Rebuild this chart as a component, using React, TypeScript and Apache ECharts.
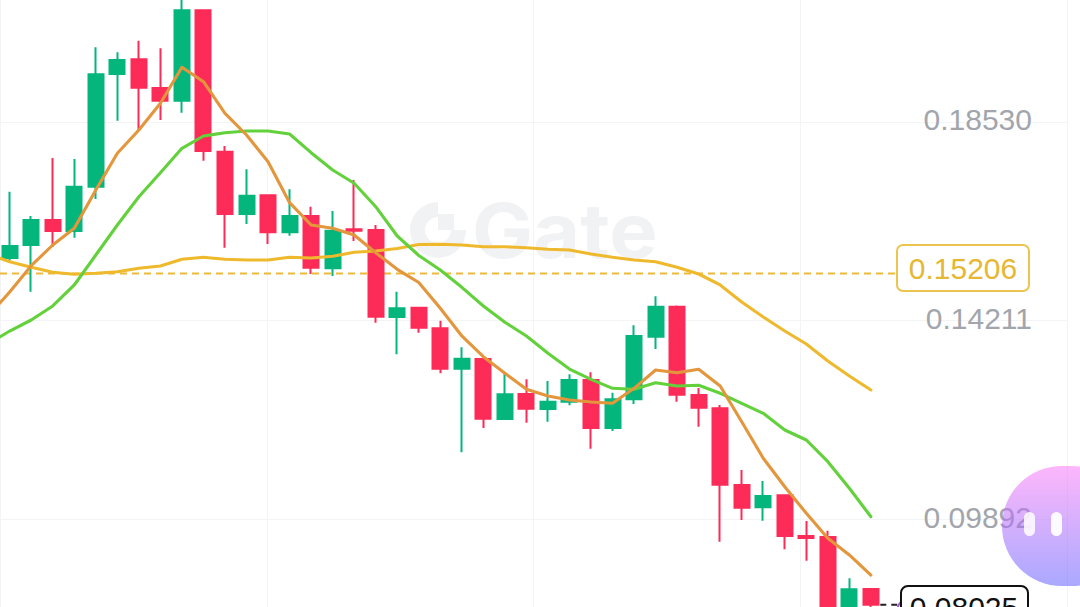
import React, { useEffect, useRef } from "react";
import * as echarts from "echarts";

const priceTicks = [0.0989, 0.14211, 0.1853];
const opens = [0.1557, 0.15853, 0.16397, 0.16158, 0.17122, 0.19575, 0.19894, 0.1927, 0.18993, 0.20961, 0.17884, 0.16528, 0.16935, 0.16129, 0.16484, 0.15346, 0.16195, 0.1618, 0.14286, 0.14488, 0.1404, 0.13161, 0.13372, 0.12066, 0.1261, 0.12284, 0.12443, 0.12915, 0.1187, 0.12495, 0.13857, 0.1451, 0.12589, 0.12299, 0.1063, 0.10145, 0.10406, 0.0952, 0.09498, 0.07583, 0.08367];
const closes = [0.15831, 0.16397, 0.16158, 0.17122, 0.19568, 0.19879, 0.19276, 0.18993, 0.20961, 0.17899, 0.16528, 0.16926, 0.16129, 0.16484, 0.15359, 0.16164, 0.16164, 0.14293, 0.14476, 0.14053, 0.13161, 0.13379, 0.12073, 0.12604, 0.12291, 0.12443, 0.12915, 0.1187, 0.12495, 0.13873, 0.1451, 0.12595, 0.12312, 0.10636, 0.10136, 0.10391, 0.0952, 0.09477, 0.07474, 0.0836, 0.08025];
const lows = [0.1549, 0.14837, 0.1581, 0.16012, 0.16854, 0.18558, 0.18341, 0.18573, 0.18732, 0.17688, 0.15794, 0.1631, 0.15875, 0.16055, 0.15222, 0.15178, 0.1594, 0.14162, 0.13474, 0.13944, 0.13061, 0.11342, 0.1187, 0.12066, 0.11986, 0.12008, 0.12364, 0.1142, 0.11805, 0.12393, 0.1359, 0.12443, 0.11899, 0.09396, 0.09868, 0.09853, 0.0923, 0.08982, 0.07148, 0.07257, 0.07692];
const highs = [0.17013, 0.16484, 0.17746, 0.17725, 0.20156, 0.20047, 0.20299, 0.20134, 0.21316, 0.20961, 0.18008, 0.17501, 0.16935, 0.17065, 0.16687, 0.16593, 0.17268, 0.16288, 0.14837, 0.14488, 0.14206, 0.13627, 0.13372, 0.13096, 0.1293, 0.12893, 0.13039, 0.13083, 0.12639, 0.14105, 0.14737, 0.14536, 0.12741, 0.12371, 0.10956, 0.10717, 0.10428, 0.09846, 0.09635, 0.08599, 0.08377];
const ma5 = [0.14308, 0.1483, 0.15403, 0.15853, 0.16217, 0.1705, 0.17849, 0.18356, 0.18937, 0.1972, 0.19407, 0.18719, 0.18247, 0.17666, 0.16774, 0.16288, 0.16217, 0.16071, 0.15686, 0.15324, 0.15037, 0.14476, 0.13873, 0.13422, 0.13061, 0.12713, 0.12567, 0.1248, 0.12436, 0.12408, 0.12734, 0.13133, 0.13074, 0.13148, 0.12784, 0.12008, 0.11211, 0.10593, 0.10014, 0.0947, 0.09107, 0.08671];
const ma10 = [0.13699, 0.13981, 0.14221, 0.14526, 0.14983, 0.15635, 0.16288, 0.16904, 0.17427, 0.17958, 0.18225, 0.18297, 0.18334, 0.18334, 0.18269, 0.17862, 0.17485, 0.17196, 0.16687, 0.16049, 0.15625, 0.15309, 0.14932, 0.14526, 0.14171, 0.13873, 0.13496, 0.13154, 0.1293, 0.12734, 0.12713, 0.12856, 0.12784, 0.128, 0.12626, 0.12408, 0.1219, 0.11827, 0.11609, 0.11137, 0.10558, 0.0994];
const ma30 = [0.15657, 0.1549, 0.15368, 0.15259, 0.15215, 0.15237, 0.15272, 0.15346, 0.15396, 0.15542, 0.15585, 0.15542, 0.15527, 0.15527, 0.15585, 0.1557, 0.15607, 0.15694, 0.15722, 0.15777, 0.15864, 0.15868, 0.15853, 0.15816, 0.15816, 0.15794, 0.1576, 0.15744, 0.15657, 0.15585, 0.15527, 0.1549, 0.15368, 0.15222, 0.14983, 0.14613, 0.14286, 0.13981, 0.13699, 0.13329, 0.13002, 0.12697];
const dashLevel = 0.15232;
const lastPrice = 0.08025;
const dashLabel = "0.15206";
const lastLabel = "0.08025";
const tickText = ["0.09892", "0.14211", "0.18530"];
const slotCount = 51;

const GREEN = "#04b67c";
const RED = "#fd2b57";
const FONT = "'Liberation Sans', Arial, sans-serif";
const yMin = 0.07975;
const yMax = 0.21185;
const OFF = 40; // the chart div starts this far left of the page so the first, off-page slot fits

export default function App() {
  const ref = useRef<HTMLDivElement>(null);
  useEffect(() => {
    const chart = echarts.init(ref.current!, null, { renderer: "svg" });
    const categories = Array.from({ length: slotCount }, (_, i) => String(i));
    const candles: any[] = ["-", ...opens.map((o, i) => [o, closes[i], lows[i], highs[i]])];
    const lineSeries = (name: string, data: number[], color: string, z: number) => ({
      name,
      type: "line",
      xAxisIndex: 1,
      yAxisIndex: 1,
      data,
      showSymbol: false,
      symbol: "none",
      z,
      lineStyle: { color, width: 3.1, cap: "round", join: "round" },
    });
    const flat = (v: number, from: number, to: number, color: string, width: number, dash: number[]) => ({
      type: "line",
      xAxisIndex: 0,
      yAxisIndex: 0,
      data: [[from, v], [to, v]],
      showSymbol: false,
      symbol: "none",
      z: 1,
      lineStyle: { color, width, type: dash },
    });
    const hideAxis = { show: false };
    chart.setOption({
      animation: false,
      backgroundColor: "#ffffff",
      grid: [
        { left: OFF, top: 0, width: 1067, height: 607 },
        { left: OFF - 22.6, top: 0, width: slotCount * 21.53, height: 607 },
      ],
      xAxis: [
        {
          type: "value", gridIndex: 0, min: 0, max: 4, interval: 1,
          axisLine: hideAxis, axisTick: hideAxis, axisLabel: hideAxis,
          splitLine: { show: true, lineStyle: { color: "#f3f4f6", width: 1 } },
        },
        {
          type: "category", gridIndex: 1, data: categories, boundaryGap: true,
          axisLine: hideAxis, axisTick: hideAxis, axisLabel: hideAxis, splitLine: hideAxis,
        },
      ],
      yAxis: [
        {
          type: "value", gridIndex: 0, position: "right", min: yMin, max: yMax,
          axisLine: hideAxis,
          axisTick: { show: false, customValues: priceTicks },
          axisLabel: {
            inside: true, margin: 35, color: "#a2a6ac", fontFamily: FONT, fontSize: 30,
            verticalAlign: "bottom", lineHeight: 4,
            customValues: priceTicks,
            formatter: (v: number) => tickText[priceTicks.indexOf(v)] ?? v.toFixed(5),
          },
          splitLine: { show: true, lineStyle: { color: "#f3f4f6", width: 1 } },
        },
        {
          type: "value", gridIndex: 1, min: yMin, max: yMax, show: false,
          splitLine: hideAxis,
        },
      ],
      series: [
        flat(dashLevel, 0, 3.363, "#eeb83e", 2, [7, 5]),
        flat(lastPrice, 3.3, 3.37, "#222222", 2, [6, 5]),
        {
          type: "candlestick",
          xAxisIndex: 1,
          yAxisIndex: 1,
          data: candles,
          barWidth: 15.5,
          z: 2,
          itemStyle: { color: GREEN, color0: RED, borderColor: GREEN, borderColor0: RED, borderWidth: 2 },
        },
        lineSeries("MA30", ma30, "#efb92d", 3),
        lineSeries("MA10", ma10, "#63d13c", 4),
        lineSeries("MA5", ma5, "#e3963c", 5),
      ],
      graphic: [
        {
          type: "group", x: OFF, y: 0, z: 0, silent: true,
          children: [
            { type: "sector", shape: { cx: 438, cy: 230, r: 28, r0: 13, startAngle: 0, endAngle: Math.PI * 1.5, clockwise: true }, style: { fill: "#f1f2f4" }, z: 0 },
            { type: "rect", shape: { x: 438, y: 214, width: 16, height: 16 }, style: { fill: "#f1f2f4" }, z: 0 },
            { type: "text", x: 472, y: 230, scaleX: 1.07, style: { text: "Gate", font: "700 76px Inter, sans-serif", fill: "#f1f2f4", textVerticalAlign: "middle" }, z: 0 },
          ],
        },
        {
          type: "group", x: OFF, y: 0, z: 30,
          children: [
            { type: "rect", shape: { x: 897, y: 245, width: 132, height: 46, r: 6 }, style: { fill: "#ffffff", stroke: "#ecc44e", lineWidth: 2 }, z: 20 },
            { type: "text", x: 963, y: 268, style: { text: dashLabel, font: `30px ${FONT}`, fill: "#e6b733", textAlign: "center", textVerticalAlign: "middle" }, z: 21 },
            { type: "arc", shape: { cx: 912, cy: 612, r: 15, startAngle: Math.PI, endAngle: Math.PI * 1.4 }, style: { stroke: "#a05ad8", lineWidth: 2, fill: "none" }, z: 19 },
            { type: "rect", shape: { x: 901, y: 586, width: 127, height: 46, r: 7 }, style: { fill: "#ffffff", stroke: "#111111", lineWidth: 2 }, z: 20 },
            { type: "text", x: 964, y: 607, style: { text: lastLabel, font: `30px ${FONT}`, fill: "#111111", textAlign: "center", textVerticalAlign: "middle" }, z: 21 },
            {
              type: "rect", shape: { x: 1002, y: 466, width: 130, height: 120, r: 60 }, z: 30,
              style: {
                opacity: 0.55,
                fill: new echarts.graphic.LinearGradient(0, 0, 0, 1, [
                  { offset: 0, color: "#fb7af8" },
                  { offset: 1, color: "#6461ff" },
                ]),
              },
            },
            { type: "rect", shape: { x: 1024, y: 512, width: 11, height: 24, r: 5.5 }, style: { fill: "#ffffff", opacity: 0.85 }, z: 31 },
            { type: "rect", shape: { x: 1051, y: 512, width: 11, height: 24, r: 5.5 }, style: { fill: "#ffffff", opacity: 0.95 }, z: 31 },
          ],
        },
      ],
    });
    return () => chart.dispose();
  }, []);
  return <div ref={ref} style={{ position: "fixed", left: -OFF, top: 0, width: 1080 + OFF, height: 607, background: "#fff" }} />;
}
